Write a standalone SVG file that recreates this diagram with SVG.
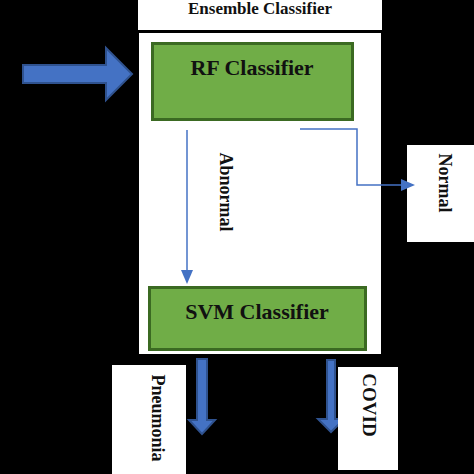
<svg xmlns="http://www.w3.org/2000/svg" width="474" height="474" viewBox="0 0 474 474">
<style>
.t{font-family:"Liberation Serif","Times New Roman",serif;font-weight:bold;fill:#111}
.g{fill:#70ad47;stroke:#3b6a22;stroke-width:3}
.w{fill:#fff}
.ln{fill:none;stroke:#4472c4;stroke-width:1.5}
.ba{fill:#4472c4;stroke:#2f528f;stroke-width:2}
</style>
<rect width="474" height="474" fill="#000"/>
<g id="ensemble">
<rect class="w" x="138" y="0" width="244" height="30"/>
<text class="t" x="260" y="14" font-size="17" text-anchor="middle">Ensemble Classifier</text>
</g>
<g id="container">
<rect class="w" x="139" y="33" width="242" height="321"/>
</g>
<g id="rf">
<rect class="g" x="152.5" y="43.5" width="200" height="76"/>
<text class="t" x="252" y="75" font-size="22" text-anchor="middle">RF Classifier</text>
</g>
<g id="svm">
<rect class="g" x="149.5" y="287.5" width="216" height="62"/>
<text class="t" x="257" y="319" font-size="22" text-anchor="middle">SVM Classifier</text>
</g>
<g id="normal">
<rect class="w" x="407" y="145" width="67" height="97"/>
<text class="t" transform="translate(439,183) rotate(90)" font-size="18" text-anchor="middle">Normal</text>
</g>
<g id="abnormal-label">
<text class="t" transform="translate(220,192) rotate(90)" font-size="18" text-anchor="middle">Abnormal</text>
</g>
<g id="connectors">
<path class="ba" d="M23,65 H106 V48 L132,74 L106,100 V83 H23 Z"/>
<path class="ln" d="M187,130 V271"/>
<path d="M181,270 L193,270 L187,284 Z" fill="#4472c4"/>
<path class="ln" d="M300,129 H357 V185 H402"/>
<path d="M401,179 L415,185 L401,191 Z" fill="#4472c4"/>
<path class="ba" d="M197,359 H207 V420 H215 L202,434 L189,420 H197 Z"/>
<path class="ba" d="M327,360 H335 V419 H344 L331,432 L318,419 H327 Z"/>
</g>
<g id="pneumonia">
<rect class="w" x="112" y="365" width="74" height="109"/>
<text class="t" transform="translate(152,418) rotate(90)" font-size="18" text-anchor="middle">Pneumonia</text>
</g>
<g id="covid">
<rect class="w" x="338" y="367" width="60" height="103"/>
<text class="t" transform="translate(363,405) rotate(90)" font-size="19" text-anchor="middle">COVID</text>
</g>
</svg>
